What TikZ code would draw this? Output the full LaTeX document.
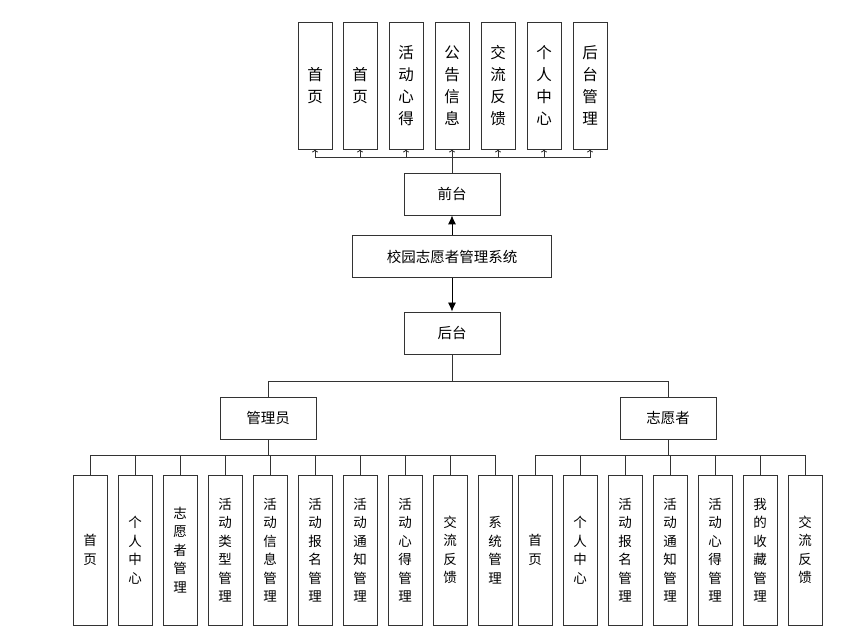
\documentclass[tikz,border=0pt]{standalone}
\usepackage{fontspec}
\setmainfont{Noto Sans CJK SC}
\usetikzlibrary{arrows.meta}
\tikzset{link/.style={draw=black!80,line width=.8pt}}
\tikzset{box/.style={link,minimum width=96,minimum height=42,inner sep=0pt,font=\fontsize{14.5}{16}\selectfont}}
\tikzset{toptab/.style={link,minimum width=34,minimum height=127,inner sep=0pt,align=center,font=\fontsize{15.5}{22}\selectfont}}
\tikzset{subtab/.style={link,minimum width=34,minimum height=150,inner sep=0pt,align=center,font=\fontsize{13.5}{18.5}\selectfont}}
\tikzset{edge/.style={draw=black,line width=.8pt,-{Latex[length=9pt,width=8pt]}}}
\tikzset{tip/.style={link,-{To[length=3pt,width=6pt]}}}
\begin{document}
\begin{tikzpicture}[x=1pt,y=-1pt]
\useasboundingbox (0,0) rectangle (865,636);

\node [toptab] (t1) at (315,85.5) {首\\页};
\node [toptab] (t2) at (360,85.5) {首\\页};
\node [toptab] (t3) at (406,85.5) {活\\动\\心\\得};
\node [toptab] (t4) at (452,85.5) {公\\告\\信\\息};
\node [toptab] (t5) at (498,85.5) {交\\流\\反\\馈};
\node [toptab] (t6) at (544,85.5) {个\\人\\中\\心};
\node [toptab] (t7) at (590,85.5) {后\\台\\管\\理};

\node [box] (qt) at (452,194) {前台};
\node [box,minimum width=199] (sys) at (452,256.5) {校园志愿者管理系统};
\node [box] (ht) at (452,333) {后台};

\node [box] (gly) at (268,418) {管理员};
\node [box] (zyz) at (668,418) {志愿者};

\node [subtab] (a1) at (90,550) {首\\页};
\node [subtab] (a2) at (135,550) {个\\人\\中\\心};
\node [subtab] (a3) at (180,550) {志\\愿\\者\\管\\理};
\node [subtab] (a4) at (225,550) {活\\动\\类\\型\\管\\理};
\node [subtab] (a5) at (270,550) {活\\动\\信\\息\\管\\理};
\node [subtab] (a6) at (315,550) {活\\动\\报\\名\\管\\理};
\node [subtab] (a7) at (360,550) {活\\动\\通\\知\\管\\理};
\node [subtab] (a8) at (405,550) {活\\动\\心\\得\\管\\理};
\node [subtab] (a9) at (450,550) {交\\流\\反\\馈};
\node [subtab] (a10) at (495,550) {系\\统\\管\\理};

\node [subtab] (v1) at (535,550) {首\\页};
\node [subtab] (v2) at (580,550) {个\\人\\中\\心};
\node [subtab] (v3) at (625,550) {活\\动\\报\\名\\管\\理};
\node [subtab] (v4) at (670,550) {活\\动\\通\\知\\管\\理};
\node [subtab] (v5) at (715,550) {活\\动\\心\\得\\管\\理};
\node [subtab] (v6) at (760,550) {我\\的\\收\\藏\\管\\理};
\node [subtab] (v7) at (805,550) {交\\流\\反\\馈};

\coordinate (jt) at (452,157);
\coordinate (jb) at (452,381);
\coordinate (ja) at (268,455);
\coordinate (jv) at (668,455);

% front end
\draw [edge] (sys) -- (qt);
\draw [link] (qt) -- (jt);
\draw [tip] (jt) -| (t1.south);
\draw [tip] (jt) -| (t2.south);
\draw [tip] (jt) -| (t3.south);
\draw [tip] (jt) -- (t4.south);
\draw [tip] (jt) -| (t5.south);
\draw [tip] (jt) -| (t6.south);
\draw [tip] (jt) -| (t7.south);

% back end
\draw [edge] (sys) -- (ht);
\draw [link] (ht) -- (jb);
\draw [link] (jb) -| (gly.north);
\draw [link] (jb) -| (zyz.north);

\draw [link] (gly) -- (ja);
\draw [link] (ja) -| (a1.north);
\draw [link] (ja) -| (a2.north);
\draw [link] (ja) -| (a3.north);
\draw [link] (ja) -| (a4.north);
\draw [link] (ja) -| (a5.north);
\draw [link] (ja) -| (a6.north);
\draw [link] (ja) -| (a7.north);
\draw [link] (ja) -| (a8.north);
\draw [link] (ja) -| (a9.north);
\draw [link] (ja) -| (a10.north);

\draw [link] (zyz) -- (jv);
\draw [link] (jv) -| (v1.north);
\draw [link] (jv) -| (v2.north);
\draw [link] (jv) -| (v3.north);
\draw [link] (jv) -| (v4.north);
\draw [link] (jv) -| (v5.north);
\draw [link] (jv) -| (v6.north);
\draw [link] (jv) -| (v7.north);
\end{tikzpicture}
\end{document}
